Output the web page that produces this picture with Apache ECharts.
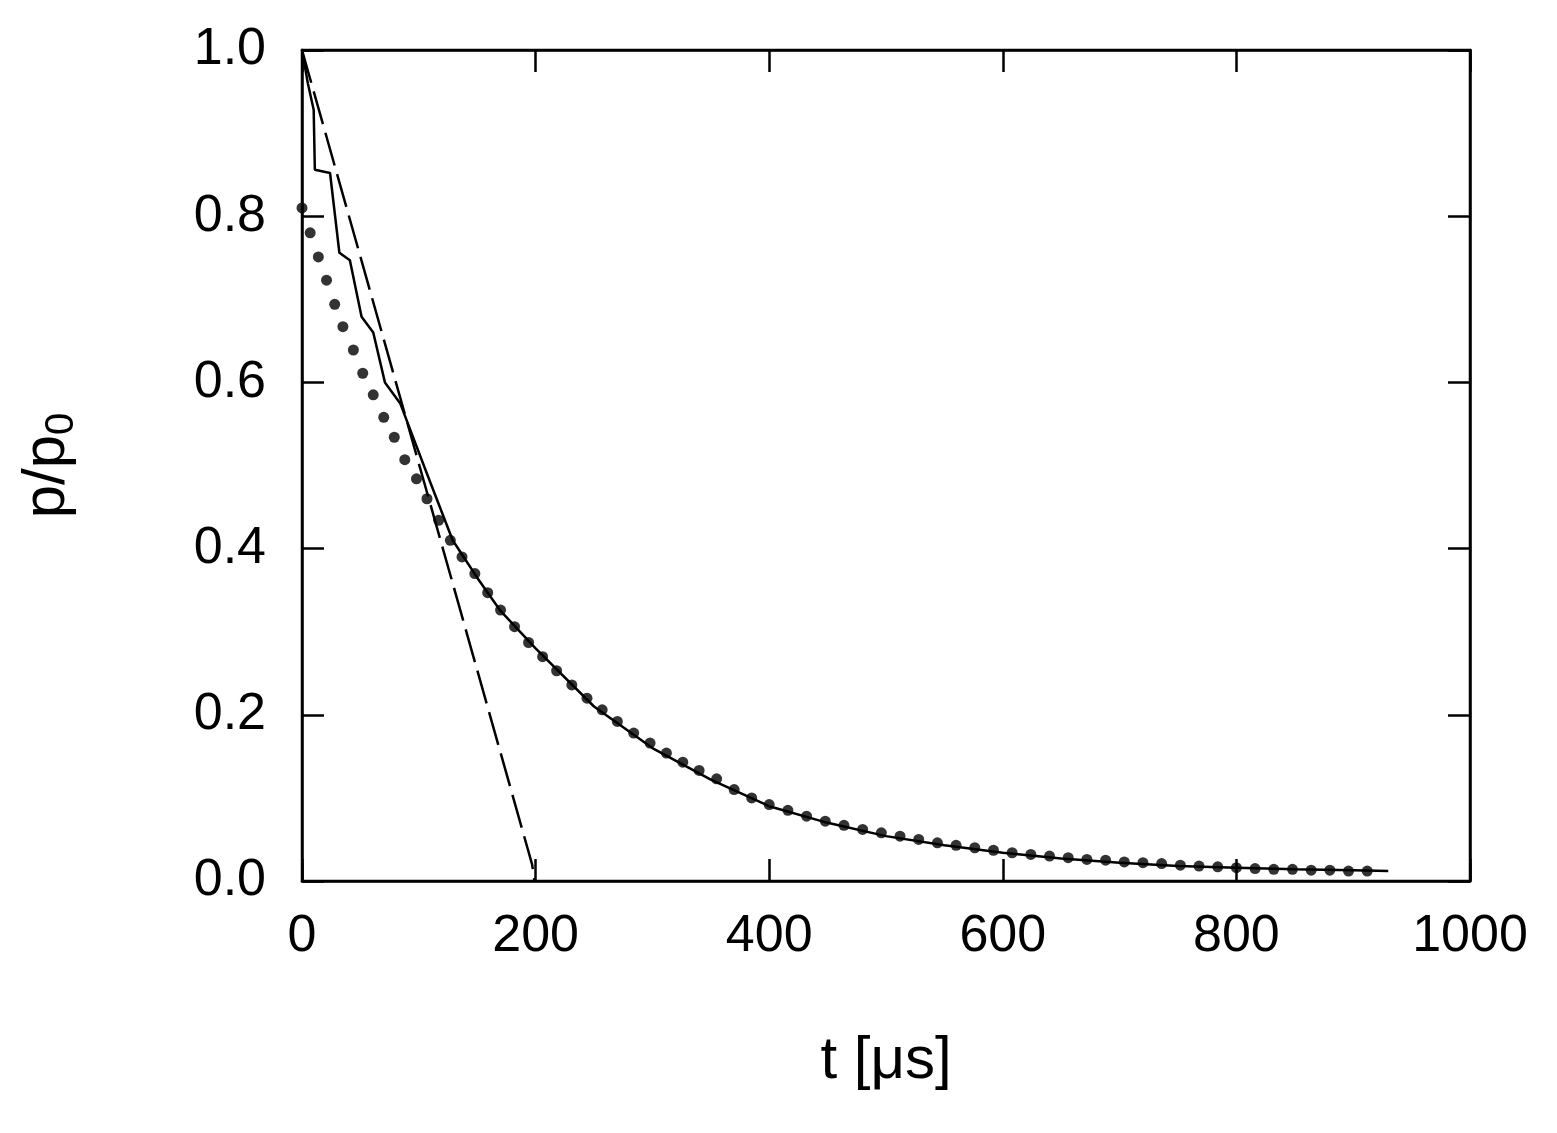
<!DOCTYPE html>
<html><head><meta charset="utf-8">
<script src="https://cdn.jsdelivr.net/npm/echarts@6/dist/echarts.min.js"></script>
<style>html,body{margin:0;background:#fff}#c{width:1557px;height:1133px}</style>
</head><body><div id="c"></div>
<script>
const xTicks = [0, 200, 400, 600, 800, 1000];
const yTicks = [0.0, 0.2, 0.4, 0.6, 0.8, 1.0];
const solidT = [0,5,10,11,24,32,41,51,61,71,84,107,129,150,170,200,250,300,350,400,450,500,550,600,650,700,750,800,850,900,930];
const solidP = [1.0,0.96,0.928,0.856,0.852,0.756,0.747,0.679,0.66,0.6,0.575,0.49,0.41,0.365,0.325,0.28,0.21,0.16,0.122,0.09,0.07,0.054,0.043,0.034,0.027,0.022,0.018,0.016,0.014,0.013,0.012];
const dotT = [0,7,14,21,28,35,44,52,61,70,79,88,98,107,117,127,137,148,159,170,182,194,206,218,231,244,257,270,284,298,312,326,340,355,370,385,400,416,432,448,464,480,496,512,528,544,560,576,592,608,624,640,656,672,688,704,720,736,752,768,784,800,816,832,848,864,880,896,912];
const dotP = [0.81,0.78,0.751,0.723,0.694,0.667,0.639,0.611,0.585,0.558,0.534,0.507,0.484,0.46,0.434,0.41,0.39,0.37,0.347,0.326,0.306,0.287,0.27,0.253,0.236,0.22,0.206,0.192,0.178,0.166,0.154,0.143,0.133,0.123,0.11,0.1,0.092,0.085,0.078,0.072,0.067,0.062,0.058,0.054,0.05,0.046,0.043,0.04,0.037,0.034,0.032,0.03,0.028,0.026,0.025,0.023,0.022,0.021,0.019,0.018,0.017,0.016,0.015,0.014,0.014,0.013,0.013,0.012,0.012];
const dashT = [0,197,199];
const dashP = [1.0,0.02,0.0];
const zip = (a,b)=>a.map((v,i)=>[v,b[i]]);
const font = 'Liberation Sans, Arial, sans-serif';
function base(){ return {min:0, axisLine:{show:true,onZero:false,lineStyle:{color:'#000',width:2.5}}, axisTick:{show:true,inside:true,length:22,lineStyle:{color:'#000',width:2.5}}, splitLine:{show:false}}; }
const chart = echarts.init(document.getElementById('c'));
chart.setOption({
  animation:false,
  grid:{left:302,right:87,top:50,bottom:252,show:true,borderColor:'#000',borderWidth:2.5},
  xAxis:[
    Object.assign(base(),{type:'value',max:1000,interval:200,position:'bottom',
      axisLabel:{color:'#000',fontSize:52,fontFamily:font,margin:30,formatter:v=>String(v)},
      name:'t [μs]',nameLocation:'middle',nameGap:150,nameTextStyle:{color:'#000',fontSize:60,fontFamily:font}}),
    Object.assign(base(),{type:'value',max:1000,interval:200,position:'top',axisLabel:{show:false}})
  ],
  yAxis:[
    Object.assign(base(),{type:'value',max:1,interval:0.2,position:'left',
      axisLabel:{color:'#000',fontSize:52,fontFamily:font,margin:36,formatter:v=>v.toFixed(1)},
      name:'{a|p/p}{b|0}',nameLocation:'middle',nameGap:220,nameRotate:90,
      nameTextStyle:{rich:{a:{color:'#000',fontSize:60,fontFamily:font},b:{color:'#000',fontSize:40,fontFamily:font,padding:[30,0,0,0]}}}}),
    Object.assign(base(),{type:'value',max:1,interval:0.2,position:'right',axisLabel:{show:false}})
  ],
  series:[
    {type:'line',data:zip(solidT,solidP),showSymbol:false,lineStyle:{color:'#000',width:2.5}},
    {type:'line',data:zip(dashT,dashP),showSymbol:false,lineStyle:{color:'#000',width:2.5,type:[34,9]}},
    {type:'scatter',data:zip(dotT,dotP),symbolSize:11,itemStyle:{color:'#000'}},
    {type:'line',xAxisIndex:1,yAxisIndex:1,data:[],showSymbol:false}
  ]
});
</script></body></html>
